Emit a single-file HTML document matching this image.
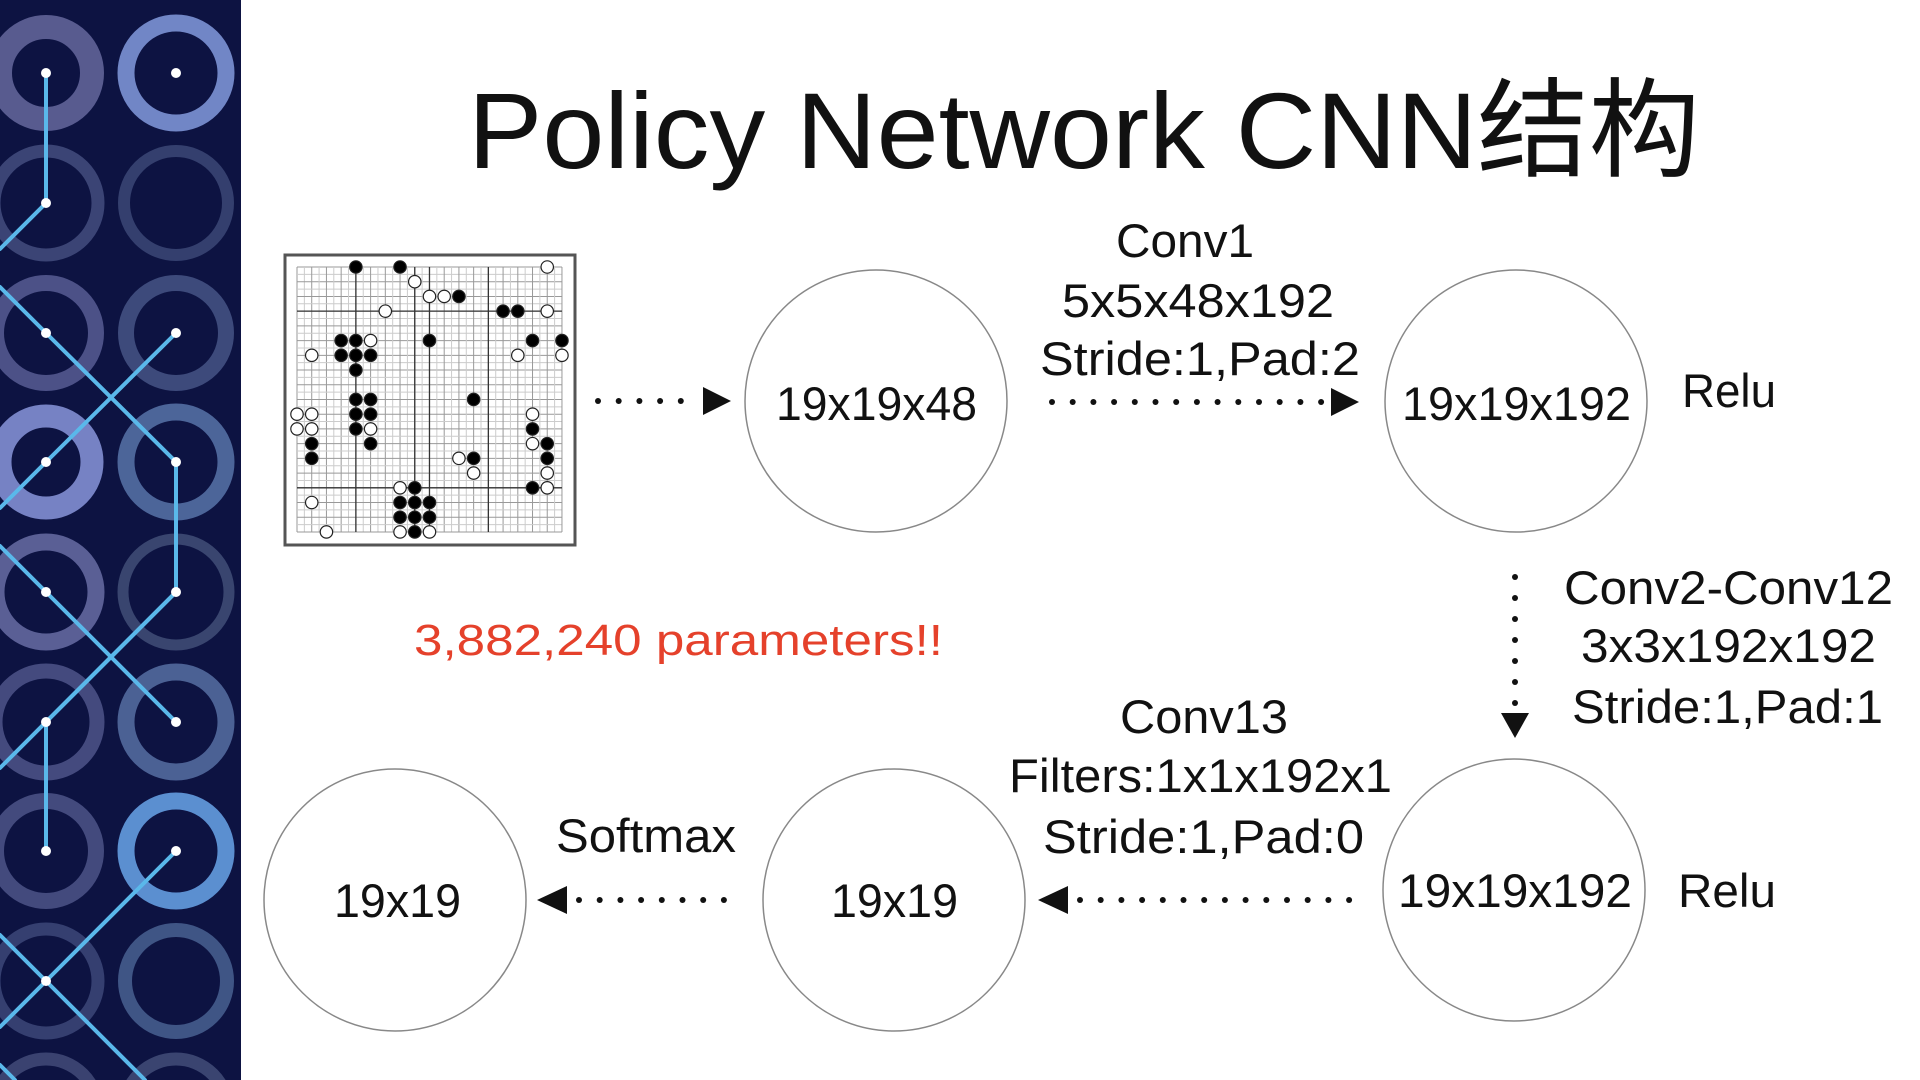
<!DOCTYPE html>
<html><head><meta charset="utf-8"><style>
html,body{margin:0;padding:0;background:#fff;width:1920px;height:1080px;overflow:hidden;}
svg{display:block;}
text{font-family:"Liberation Sans","Noto Sans CJK SC",sans-serif;fill:#111;}
</style></head><body>
<svg width="1920" height="1080" viewBox="0 0 1920 1080" xmlns="http://www.w3.org/2000/svg">
<defs><clipPath id="sb"><rect x="0" y="0" width="241" height="1080"/></clipPath></defs>
<rect width="1920" height="1080" fill="#fff"/>
<!-- sidebar -->
<g clip-path="url(#sb)">
<rect x="0" y="0" width="241" height="1080" fill="#0d1342"/>
<g fill="none">
<circle cx="46" cy="73" r="46" stroke="#585b8f" stroke-width="24"/>
<circle cx="176" cy="73" r="50" stroke="#7186c6" stroke-width="17"/>
<circle cx="46" cy="203" r="52" stroke="#3b4475" stroke-width="13"/>
<circle cx="176" cy="203" r="52" stroke="#343f6e" stroke-width="12"/>
<circle cx="46" cy="333" r="50" stroke="#4c5187" stroke-width="16"/>
<circle cx="176" cy="333" r="50" stroke="#3d4a7b" stroke-width="16"/>
<circle cx="46" cy="462" r="46" stroke="#7682c4" stroke-width="23"/>
<circle cx="176" cy="462" r="50" stroke="#4c6599" stroke-width="17"/>
<circle cx="46" cy="592" r="50" stroke="#5a5f95" stroke-width="17"/>
<circle cx="176" cy="592" r="53" stroke="#39456f" stroke-width="11"/>
<circle cx="46" cy="722" r="51" stroke="#444a7e" stroke-width="15"/>
<circle cx="176" cy="722" r="50" stroke="#4b6194" stroke-width="17"/>
<circle cx="46" cy="851" r="50" stroke="#434a7d" stroke-width="16"/>
<circle cx="176" cy="851" r="50" stroke="#5b8fd0" stroke-width="17"/>
<circle cx="46" cy="981" r="52" stroke="#353f70" stroke-width="13"/>
<circle cx="176" cy="981" r="51" stroke="#3f5585" stroke-width="14"/>
<circle cx="46" cy="1111" r="52" stroke="#3a4270" stroke-width="13"/>
<circle cx="176" cy="1111" r="52" stroke="#3a4470" stroke-width="13"/>
</g>
<g stroke="#5ab8ea" stroke-width="4" fill="none" stroke-linecap="round">
<polyline points="46,73 46,203 0,249"/>
<polyline points="0,287 46,333 176,462 176,592 0,768"/>
<polyline points="176,333 46,462 0,508"/>
<polyline points="0,546 46,592 176,722"/>
<polyline points="176,592 46,722 46,851"/>
<polyline points="176,851 46,981 0,1027"/>
<polyline points="0,935 46,981 145,1080"/>
<polyline points="0,1065 15,1080"/>
</g>
<g fill="#fff">
<circle cx="46" cy="73" r="5"/><circle cx="176" cy="73" r="5"/>
<circle cx="46" cy="203" r="5"/>
<circle cx="46" cy="333" r="5"/><circle cx="176" cy="333" r="5"/>
<circle cx="46" cy="462" r="5"/><circle cx="176" cy="462" r="5"/>
<circle cx="46" cy="592" r="5"/><circle cx="176" cy="592" r="5"/>
<circle cx="46" cy="722" r="5"/><circle cx="176" cy="722" r="5"/>
<circle cx="46" cy="851" r="5"/><circle cx="176" cy="851" r="5"/>
<circle cx="46" cy="981" r="5"/>
</g>
</g>

<!-- title -->
<text x="468" y="168" font-size="108" textLength="1232" lengthAdjust="spacingAndGlyphs">Policy Network CNN结构</text>

<!-- go board -->
<rect x="285" y="255" width="290" height="290" fill="#fff" stroke="#555" stroke-width="3"/>
<g id="grid" stroke="#aaa" stroke-width="1">
</g>
<g id="stones"></g>

<!-- nodes -->
<g fill="none" stroke="#888" stroke-width="1.5">
<circle cx="876" cy="401" r="131"/>
<circle cx="1516" cy="401" r="131"/>
<circle cx="1514" cy="890" r="131"/>
<circle cx="894" cy="900" r="131"/>
<circle cx="395" cy="900" r="131"/>
</g>

<g font-size="47">
<text x="776" y="420" textLength="201" lengthAdjust="spacingAndGlyphs">19x19x48</text>
<text x="1116" y="257" textLength="138" lengthAdjust="spacingAndGlyphs">Conv1</text>
<text x="1062" y="317" textLength="272" lengthAdjust="spacingAndGlyphs">5x5x48x192</text>
<text x="1040" y="375" textLength="320" lengthAdjust="spacingAndGlyphs">Stride:1,Pad:2</text>
<text x="1402" y="420" textLength="229" lengthAdjust="spacingAndGlyphs">19x19x192</text>
<text x="1682" y="407" textLength="94" lengthAdjust="spacingAndGlyphs">Relu</text>
<text x="1564" y="604" textLength="329" lengthAdjust="spacingAndGlyphs">Conv2-Conv12</text>
<text x="1581" y="662" textLength="295" lengthAdjust="spacingAndGlyphs">3x3x192x192</text>
<text x="1572" y="723" textLength="311" lengthAdjust="spacingAndGlyphs">Stride:1,Pad:1</text>
<text x="1398" y="907" textLength="234" lengthAdjust="spacingAndGlyphs">19x19x192</text>
<text x="1678" y="907" textLength="98" lengthAdjust="spacingAndGlyphs">Relu</text>
<text x="1120" y="733" textLength="168" lengthAdjust="spacingAndGlyphs">Conv13</text>
<text x="1009" y="792" textLength="383" lengthAdjust="spacingAndGlyphs">Filters:1x1x192x1</text>
<text x="1043" y="853" textLength="321" lengthAdjust="spacingAndGlyphs">Stride:1,Pad:0</text>
<text x="556" y="852" textLength="180" lengthAdjust="spacingAndGlyphs">Softmax</text>
<text x="831" y="917" textLength="127" lengthAdjust="spacingAndGlyphs">19x19</text>
<text x="334" y="917" textLength="127" lengthAdjust="spacingAndGlyphs">19x19</text>
</g>
<text x="414" y="655" font-size="44" style="fill:#e5412b" textLength="529" lengthAdjust="spacingAndGlyphs">3,882,240 parameters!!</text>

<!-- arrows -->
<g fill="#111" id="arrows">
<polygon points="703,387 703,415 731,401"/>
<polygon points="1331,388 1331,416 1359,402"/>
<polygon points="1501,713 1529,713 1515,738"/>
<polygon points="1068,886 1068,914 1038,900"/>
<polygon points="567,886 567,914 537,900"/>
</g>
<script>
(function(){
var ns="http://www.w3.org/2000/svg";
function el(p,t,a){var e=document.createElementNS(ns,t);for(var k in a)e.setAttribute(k,a[k]);p.appendChild(e);return e;}
var ar=document.getElementById('arrows');
function dotsH(x1,x2,y){for(var x=x1;x<=x2+0.1;x+=20.7)el(ar,'circle',{cx:x,cy:y,r:3});}
function dotsV(x,y1,y2){for(var y=y1;y<=y2+0.1;y+=21)el(ar,'circle',{cx:x,cy:y,r:3});}
dotsH(598,696,401);
dotsH(1052,1322,402);
dotsV(1515,577,703);
dotsH(1080,1350,900);
dotsH(579,741,900);
var g=document.getElementById('grid');
var x0=297,y0=267,s=14.72,n=18;
for(var i=0;i<=36;i++){var v=x0+i*s/2;var c=(i%2==0)?'#999':'#ccc';
el(g,'line',{x1:v,y1:y0,x2:v,y2:y0+n*s,stroke:c});
el(g,'line',{x1:x0,y1:y0+i*s/2,x2:x0+n*s,y2:y0+i*s/2,stroke:c});}
[4,8,9,13].forEach(function(c){var v=x0+c*s;el(g,'line',{x1:v,y1:y0,x2:v,y2:y0+n*s,stroke:'#333','stroke-width':1.3});});
[3,15].forEach(function(r){var v=y0+r*s;el(g,'line',{x1:x0,y1:v,x2:x0+n*s,y2:v,stroke:'#333','stroke-width':1.3});});
var st=document.getElementById('stones');
var S=[
['B',4,0],['B',7,0],['W',17,0],['W',8,1],['W',9,2],['W',10,2],['B',11,2],
['W',6,3],['B',14,3],['B',15,3],['W',17,3],
['B',3,5],['B',4,5],['W',5,5],['B',9,5],['B',16,5],['B',18,5],
['W',1,6],['B',3,6],['B',4,6],['B',5,6],['W',15,6],['W',18,6],
['B',4,7],['B',4,9],['B',5,9],['B',12,9],
['W',0,10],['W',1,10],['B',4,10],['B',5,10],['W',16,10],
['W',0,11],['W',1,11],['B',4,11],['W',5,11],['B',16,11],
['B',1,12],['B',5,12],['W',16,12],['B',17,12],
['B',1,13],['W',11,13],['B',12,13],['B',17,13],
['W',12,14],['W',17,14],
['W',7,15],['B',8,15],['B',16,15],['W',17,15],
['W',1,16],['B',7,16],['B',8,16],['B',9,16],
['B',7,17],['B',8,17],['B',9,17],
['W',2,18],['W',7,18],['B',8,18],['W',9,18]];
S.forEach(function(t){el(st,'circle',{cx:x0+t[1]*s,cy:y0+t[2]*s,r:6.2,fill:t[0]=='B'?'#000':'#fff',stroke:'#222','stroke-width':1.2});});
})();
</script>
</svg>
</body></html>
